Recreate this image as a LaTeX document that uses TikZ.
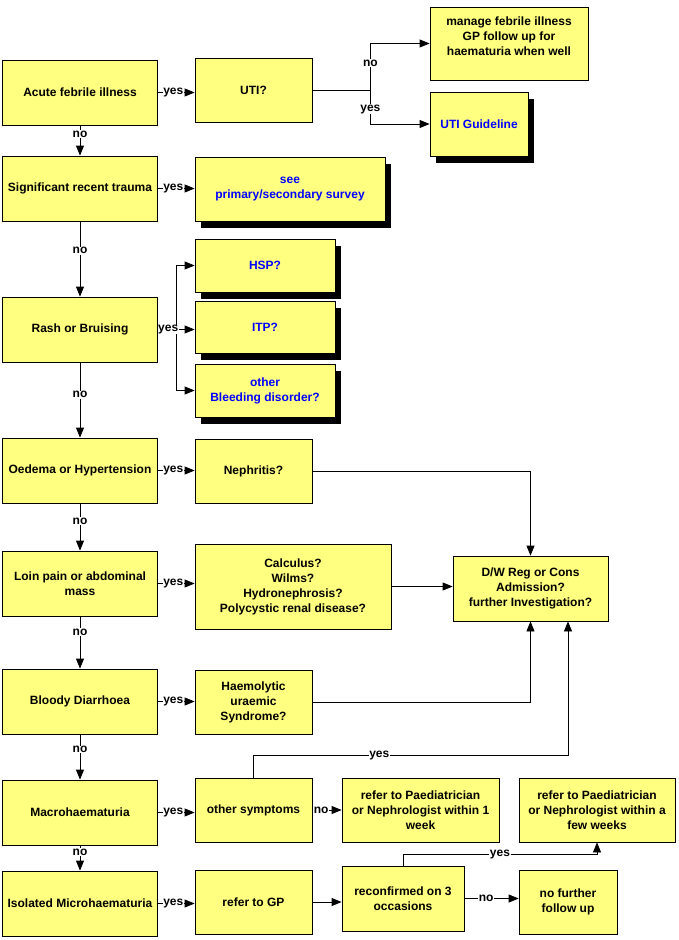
\documentclass[tikz,border=0pt]{standalone}
\usepackage{fontspec}
\setmainfont{Liberation Sans}
\usetikzlibrary{shadows,arrows.meta}
\definecolor{chartyellow}{RGB}{255,255,128}
\tikzstyle{decision}=[draw, fill=chartyellow, line width=0.8pt, align=center,
  inner sep=3pt]
\tikzstyle{outcome}=[decision, text=blue,
  drop shadow={shadow xshift=6pt, shadow yshift=-6.5pt, fill=black, opacity=1}]
\tikzstyle{answer}=[fill=white, inner sep=0.5pt]
\tikzstyle{line}=[draw, line width=0.8pt, -{Triangle[length=10pt,width=8pt]}]
\tikzstyle{joint}=[draw, line width=0.8pt]
\newcommand{\chartnode}[5]{node (#1) [#2, minimum width=#3pt,
  minimum height=#4pt] {#5}}

\begin{document}
\begin{tikzpicture}[x=1pt,y=1pt,font={\bfseries\fontsize{12}{15}\selectfont}]
  \useasboundingbox (0,0) rectangle (678,-940);

  % Draw diagram elements
  % left column of questions
  \path (80,-92.5) \chartnode{ACUTE}{decision}{155}{65}{Acute febrile illness};
  \path (ACUTE.center)+(0,-96) \chartnode{TRAUMA}{decision}{155}{65}{Significant recent trauma};
  \path (TRAUMA.center)+(0,-141) \chartnode{RASH}{decision}{155}{65}{Rash or Bruising};
  \path (RASH.center)+(0,-141) \chartnode{OEDEMA}{decision}{155}{65}{Oedema or Hypertension};
  \path (OEDEMA.center)+(0,-113) \chartnode{LOIN}{decision}{155}{65}{Loin pain or abdominal\\mass};
  \path (LOIN.center)+(0,-118) \chartnode{BLOODY}{decision}{155}{65}{Bloody Diarrhoea};
  \path (BLOODY.center)+(0,-111) \chartnode{MACRO}{decision}{155}{65}{Macrohaematuria};
  \path (MACRO.center)+(0,-91) \chartnode{MICRO}{decision}{155}{65}{Isolated Microhaematuria};

  % febrile and trauma branch
  \path (ACUTE.center)+(173.5,2.5) \chartnode{UTI}{decision}{117}{64}{UTI?};
  \path (UTI.center)+(255.5,46.5) \chartnode{MANAGE}{decision}{158}{73}{manage febrile illness\\GP follow up for\\haematuria when well\\\mbox{}};
  \path (UTI.center)+(225.5,-34) \chartnode{GUIDE}{outcome}{98}{64}{UTI Guideline};
  \path (TRAUMA.center)+(210,-0.5) \chartnode{SURVEY}{outcome}{190}{64}{see\\primary/secondary survey};

  % rash branch
  \path (RASH.center)+(185,64) \chartnode{HSP}{outcome}{140}{53}{HSP?};
  \path (RASH.center)+(185,2.5) \chartnode{ITP}{outcome}{140}{52}{ITP?};
  \path (RASH.center)+(185,-61) \chartnode{BLEED}{outcome}{140}{53}{other\\Bleeding disorder?};

  % renal causes
  \path (OEDEMA.center)+(173.5,-0.5) \chartnode{NEPH}{decision}{117}{64}{Nephritis?};
  \path (LOIN.center)+(213,-3) \chartnode{CALC}{decision}{196}{85}{Calculus?\\Wilms?\\Hydronephrosis?\\Polycystic renal disease?};
  \path (CALC.center)+(237.5,-2) \chartnode{DWREG}{decision}{155}{65}{D/W Reg or Cons\\Admission?\\further Investigation?};
  \path (BLOODY.center)+(173.5,-0.5) \chartnode{HUS}{decision}{117}{64}{Haemolytic\\uraemic\\Syndrome?};

  % haematuria branch
  \path (MACRO.center)+(173.5,2.5) \chartnode{OTHER}{decision}{117}{64}{other symptoms};
  \path (OTHER.center)+(167,0) \chartnode{WEEK1}{decision}{157}{64}{refer to Paediatrician\\or Nephrologist within 1\\week};
  \path (WEEK1.center)+(176.5,0) \chartnode{WEEKS}{decision}{156}{64}{refer to Paediatrician\\or Nephrologist within a\\few weeks};
  \path (MICRO.center)+(173.5,1.5) \chartnode{GP}{decision}{117}{64}{refer to GP};
  \path (GP.center)+(149.5,3.5) \chartnode{RECONF}{decision}{122}{65}{reconfirmed on 3\\occasions};
  \path (RECONF.center)+(165,-3.5) \chartnode{NOFU}{decision}{98}{64}{no further\\follow up};

  % Draw arrows between elements
  % febrile illness
  \path [line] (ACUTE.east) -- node [answer, pos=0.42] {yes} (ACUTE.east -| UTI.west);
  \coordinate (UTIFORK) at ([xshift=58pt]UTI.east);
  \path [joint] (UTI.east) -- (UTIFORK);
  \path [line] (UTIFORK) |- node [answer, pos=0.29] {no} (MANAGE.west);
  \path [line] (UTIFORK) |- node [answer, pos=0.28] {yes} (GUIDE.west);
  \path [line] (ACUTE.south) -- node [answer, pos=0.29] {no} (TRAUMA.north);

  % trauma and rash
  \path [line] (TRAUMA.east) -- node [answer, pos=0.42] {yes} (TRAUMA.east -| SURVEY.west);
  \path [line] (TRAUMA.south) -- node [answer, pos=0.39] {no} (RASH.north);
  \coordinate (RASHFORK) at ([xshift=18.5pt]RASH.east);
  \path [line] (RASHFORK) |- (HSP.west);
  \path [line] (RASHFORK) |- (BLEED.west);
  \path [line] (RASH.east) -- node [answer, pos=0.28] {yes} (RASH.east -| ITP.west);
  \path [line] (RASH.south) -- node [answer, pos=0.43] {no} (OEDEMA.north);

  % renal causes to admission
  \path [line] (OEDEMA.east) -- node [answer, pos=0.42] {yes} (OEDEMA.east -| NEPH.west);
  \path [line] (OEDEMA.south) -- node [answer, pos=0.375] {no} (LOIN.north);
  \path [line] (LOIN.east) -- node [answer, pos=0.42] {yes} (LOIN.east -| CALC.west);
  \path [line] (LOIN.south) -- node [answer, pos=0.3] {no} (BLOODY.north);
  \path [line] (BLOODY.east) -- node [answer, pos=0.42] {yes} (BLOODY.east -| HUS.west);
  \path [line] (BLOODY.south) -- node [answer, pos=0.33] {no} (MACRO.north);
  \path [line] (NEPH.east) -| (DWREG.north);
  \path [line] (CALC.east) -- (CALC.east -| DWREG.west);
  \path [line] (HUS.east) -| (DWREG.south);

  % haematuria
  \path [line] (MACRO.east) -- node [answer, pos=0.42] {yes} (MACRO.east -| OTHER.west);
  \path [line] (MACRO.south) -- node [answer, pos=0.27] {no} (MICRO.north);
  \coordinate (OTHERUP) at ([yshift=22pt]OTHER.north);
  \path [line] (OTHER.north) -- (OTHERUP) -| node [answer, pos=0.2] {yes} ([xshift=37.5pt]DWREG.south);
  \path [line] (OTHER.east) -- node [answer, pos=0.3] {no} (WEEK1.west);
  \path [line] (MICRO.east) -- node [answer, pos=0.42] {yes} (MICRO.east -| GP.west);
  \path [line] (GP.east) -- (GP.east -| RECONF.west);
  \path [line] (RECONF.east) -- node [answer, pos=0.4] {no} (RECONF.east -| NOFU.west);
  \coordinate (RECONFUP) at ([yshift=11pt]RECONF.north);
  \path [line] (RECONF.north) -- (RECONFUP) -| node [answer, pos=0.25] {yes} (WEEKS.south);

\end{tikzpicture}
\end{document}
